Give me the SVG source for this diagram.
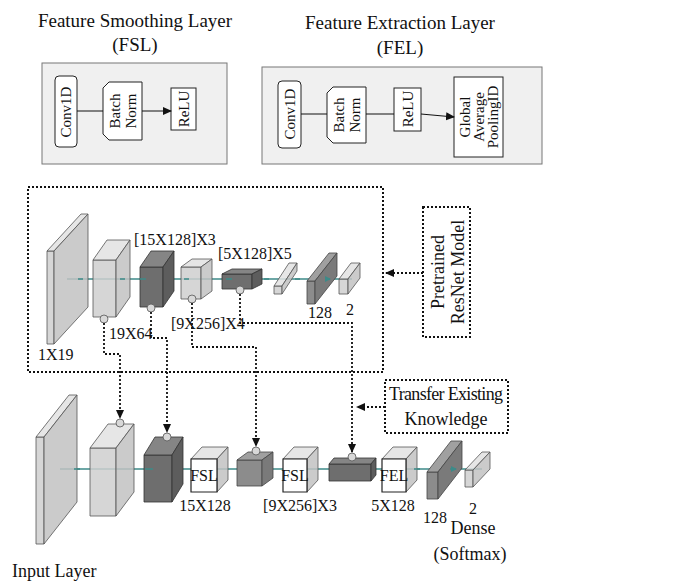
<svg xmlns="http://www.w3.org/2000/svg" width="676" height="582" viewBox="0 0 676 582">
<style>
text{font-family:"Liberation Serif","Times New Roman",serif;fill:#111}
.t{font-size:19px}.l{font-size:14px}.b{font-size:18px}.p{font-size:15px}.c{font-size:16px}
.panel{fill:#f0f0f0;stroke:#777;stroke-width:1}
.blk{fill:#fff;stroke:#222;stroke-width:1}
.lg path{fill:#d2d2d2;fill-opacity:.85;stroke:#555;stroke-width:.8}
.lg path.f{fill:#cfcfcf}.lg path.s{fill:#c2c2c2}.lg path.tp{fill:#e2e2e2}
.dk path{fill:#6e6e6e;stroke:#333;stroke-width:.8}
.dk path.tp{fill:#858585}.dk path.s{fill:#5d5d5d}
.md path{fill:#8c8c8c;stroke:#444;stroke-width:.8}
.md path.tp{fill:#a0a0a0}.md path.s{fill:#7a7a7a}
.wh path.f{fill:#fff;fill-opacity:1;stroke:#222;stroke-width:1.2}
.dot{fill:none;stroke:#111;stroke-width:2;stroke-dasharray:2 2}
.cn{fill:none;stroke:#111;stroke-width:1.8;stroke-dasharray:2 2}
.teal{stroke:#3d8a88;stroke-width:1.5}
.ball{fill:#d8d8d8;stroke:#555;stroke-width:.8}
</style>
<defs>
<marker id="ah" markerWidth="10" markerHeight="10" refX="8" refY="4" orient="auto" markerUnits="userSpaceOnUse"><path d="M0,0L9,4L0,8z" fill="#111"/></marker>
<marker id="ta" markerWidth="8" markerHeight="8" refX="5" refY="3" orient="auto" markerUnits="userSpaceOnUse"><path d="M0,0L6,3L0,6z" fill="#3d8a88"/></marker>
</defs>

<g id="fsl-panel">
<text class="t" x="135" y="27" text-anchor="middle">Feature Smoothing Layer</text>
<text class="t" x="135" y="51" text-anchor="middle">(FSL)</text>
<rect class="panel" x="42" y="63" width="185" height="101"/>
<rect class="blk" x="55" y="76" width="22" height="71" rx="4"/>
<text class="p" transform="translate(71,112) rotate(-90)" text-anchor="middle">Conv1D</text>
<path class="blk" d="M109,82H142V140H109L103,134V88Z"/>
<text class="p" transform="translate(120,111) rotate(-90)" text-anchor="middle">Batch</text>
<text class="p" transform="translate(136,111) rotate(-90)" text-anchor="middle">Norm</text>
<rect class="blk" x="171" y="88" width="25" height="42"/>
<text class="p" transform="translate(189,109) rotate(-90)" text-anchor="middle">ReLU</text>
<path d="M77,111H103M142,111H171" stroke="#111" fill="none" marker-end="url(#ah)"/>
</g>

<g id="fel-panel">
<text class="t" x="400" y="29" text-anchor="middle">Feature Extraction Layer</text>
<text class="t" x="400" y="54" text-anchor="middle">(FEL)</text>
<rect class="panel" x="262" y="67" width="280" height="97"/>
<rect class="blk" x="278" y="81" width="23" height="67" rx="4"/>
<text class="p" transform="translate(295,114) rotate(-90)" text-anchor="middle">Conv1D</text>
<path class="blk" d="M333,87H366V143H333L327,137V93Z"/>
<text class="p" transform="translate(344,115) rotate(-90)" text-anchor="middle">Batch</text>
<text class="p" transform="translate(360,115) rotate(-90)" text-anchor="middle">Norm</text>
<rect class="blk" x="394" y="88" width="27" height="43"/>
<text class="p" transform="translate(413,109) rotate(-90)" text-anchor="middle">ReLU</text>
<rect class="blk" x="454" y="77" width="49" height="80"/>
<text class="p" transform="translate(470,117) rotate(-90)" text-anchor="middle">Global</text>
<text class="p" transform="translate(484,117) rotate(-90)" text-anchor="middle">Average</text>
<text class="p" transform="translate(498,117) rotate(-90)" text-anchor="middle">PoolingID</text>
<path d="M301,114H327M366,114H394M421,114L454,117" stroke="#111" fill="none" marker-end="url(#ah)"/>
</g>

<g id="pretrained-box">
<rect class="dot" x="28" y="187" width="355" height="185"/>
<rect class="dot" x="423" y="207" width="47" height="130"/>
<text class="b" transform="translate(444,272) rotate(-90)" text-anchor="middle">Pretrained</text>
<text class="b" transform="translate(464,272) rotate(-90)" text-anchor="middle">ResNet Model</text>
</g>
<g id="transfer-box">
<rect class="dot" x="385" y="380" width="123" height="53"/>
<text class="b" x="446" y="400" text-anchor="middle" textLength="114">Transfer Existing</text>
<text class="b" x="446" y="425" text-anchor="middle">Knowledge</text>
</g>

<g id="top-row">
<line class="teal" x1="67" y1="279" x2="352" y2="279"/>
<g class="lg"><path class="f" d="M47,251h7v93h-7z"/><path class="tp" d="M47,251L81,214H88L54,251Z"/><path class="s" d="M54,251L88,214V307L54,344Z"/></g>
<g class="lg"><path class="f" d="M93,260h23v57h-23z"/><path class="tp" d="M93,260L107,240H130L116,260Z"/><path class="s" d="M116,260L130,240V297L116,317Z"/></g>
<g class="dk"><path class="f" d="M140,267h23v40h-23z"/><path class="tp" d="M140,267L151,251H174L163,267Z"/><path class="s" d="M163,267L174,251V291L163,307Z"/></g>
<g class="lg"><path class="f" d="M181,267h20v32h-20z"/><path class="tp" d="M181,267L192,259H212L201,267Z"/><path class="s" d="M201,267L212,259V291L201,299Z"/></g>
<g class="dk"><path class="f" d="M222,274h30v15h-30z"/><path class="tp" d="M222,274L232,269H262L252,274Z"/><path class="s" d="M252,274L262,269V284L252,289Z"/></g>
<g class="lg"><path class="f" d="M274,286h8v8h-8z"/><path class="tp" d="M274,286L289,263H297L282,286Z"/><path class="s" d="M282,286L297,263V271L282,294Z"/></g>
<g class="md"><path class="f" d="M307,281h8v23h-8z"/><path class="tp" d="M307,281L329,253H337L315,281Z"/><path class="s" d="M315,281L337,253V276L315,304Z"/></g>
<g class="lg"><path class="f" d="M339,279h9v15h-9z"/><path class="tp" d="M339,279L351,263H360L348,279Z"/><path class="s" d="M348,279L360,263V278L348,294Z"/></g>
<g class="teal" fill="none"><path d="M78,279h5M120,279h5M140,279h6M184,279h5M226,279h6M264,279h5M295,279h5M325,279h5" marker-end="url(#ta)"/></g>
<circle class="ball" cx="104" cy="319" r="4"/><circle class="ball" cx="151" cy="308" r="4"/><circle class="ball" cx="192" cy="299" r="4"/><circle class="ball" cx="240" cy="290" r="4"/>
<text class="c" x="134" y="245">[15X128]X3</text>
<text class="c" x="109" y="339">19X64</text>
<text class="c" x="171" y="329">[9X256]X4</text>
<text class="c" x="218" y="259">[5X128]X5</text>
<text class="c" x="308" y="318">128</text>
<text class="c" x="346" y="315">2</text>
<text class="c" x="38" y="360">1X19</text>
</g>

<g id="bottom-row">
<line class="teal" x1="60" y1="469" x2="482" y2="469"/>
<g class="lg"><path class="f" d="M36,437h8v107h-8z"/><path class="tp" d="M36,437L69,395H77L44,437Z"/><path class="s" d="M44,437L77,395V502L44,544Z"/></g>
<g class="lg"><path class="f" d="M90,448h26v68h-26z"/><path class="tp" d="M90,448L108,424H134L116,448Z"/><path class="s" d="M116,448L134,424V492L116,516Z"/></g>
<g class="dk"><path class="f" d="M144,455h28v47h-28z"/><path class="tp" d="M144,455L155,437H183L172,455Z"/><path class="s" d="M172,455L183,437V484L172,502Z"/></g>
<g class="lg wh"><path class="tp" d="M191,459L202,447H228L217,459Z"/><path class="s" d="M217,459L228,447V480L217,492Z"/><path class="f" d="M191,459h26v33h-26z"/></g>
<g class="md"><path class="f" d="M237,460h25v26h-25z"/><path class="tp" d="M237,460L248,452H273L262,460Z"/><path class="s" d="M262,460L273,452V478L262,486Z"/></g>
<g class="lg wh"><path class="tp" d="M283,459L294,447H318L307,459Z"/><path class="s" d="M307,459L318,447V480L307,492Z"/><path class="f" d="M283,459h24v33h-24z"/></g>
<g class="dk"><path class="f" d="M329,464h42v17h-42z"/><path class="tp" d="M329,464L334,458H376L371,464Z"/><path class="s" d="M371,464L376,458V475L371,481Z"/></g>
<g class="lg wh"><path class="tp" d="M382,459L393,447H417L406,459Z"/><path class="s" d="M406,459L417,447V480L406,492Z"/><path class="f" d="M382,459h24v33h-24z"/></g>
<g class="md"><path class="f" d="M427,472h11v27h-11z"/><path class="tp" d="M427,472L451,441H462L438,472Z"/><path class="s" d="M438,472L462,441V468L438,499Z"/></g>
<g class="lg"><path class="f" d="M465,470h8v17h-8z"/><path class="tp" d="M465,470L482,452H490L473,470Z"/><path class="s" d="M473,470L490,452V469L473,487Z"/></g>
<g class="teal" fill="none"><path d="M74,469h6M145,469h8M414,469h6M450,469h6" marker-end="url(#ta)"/></g>
<text class="c" x="204" y="481" text-anchor="middle">FSL</text>
<text class="c" x="295" y="481" text-anchor="middle">FSL</text>
<text class="c" x="394" y="481" text-anchor="middle">FEL</text>
<circle class="ball" cx="120" cy="423" r="4"/><circle class="ball" cx="167" cy="437" r="4"/><circle class="ball" cx="256" cy="451" r="4"/><circle class="ball" cx="352" cy="457" r="4"/>
<text class="c" x="205" y="511" text-anchor="middle">15X128</text>
<text class="c" x="300" y="511" text-anchor="middle">[9X256]X3</text>
<text class="c" x="393" y="511" text-anchor="middle">5X128</text>
<text class="c" x="435" y="523" text-anchor="middle">128</text>
<text class="c" x="473" y="514" text-anchor="middle">2</text>
<text class="b" x="473" y="534" text-anchor="middle">Dense</text>
<text class="b" x="470" y="560" text-anchor="middle">(Softmax)</text>
<text class="b" x="12" y="577">Input Layer</text>
</g>

<g id="connectors">
<path class="cn" d="M104,323V354H120V418" marker-end="url(#ah)"/>
<path class="cn" d="M151,312V338H167V432" marker-end="url(#ah)"/>
<path class="cn" d="M192,303V347H256V446" marker-end="url(#ah)"/>
<path class="cn" d="M240,294V323H352V452" marker-end="url(#ah)"/>
<path class="cn" d="M423,273H386" marker-end="url(#ah)"/>
<path class="cn" d="M385,407H357" marker-end="url(#ah)"/>
</g>
</svg>
